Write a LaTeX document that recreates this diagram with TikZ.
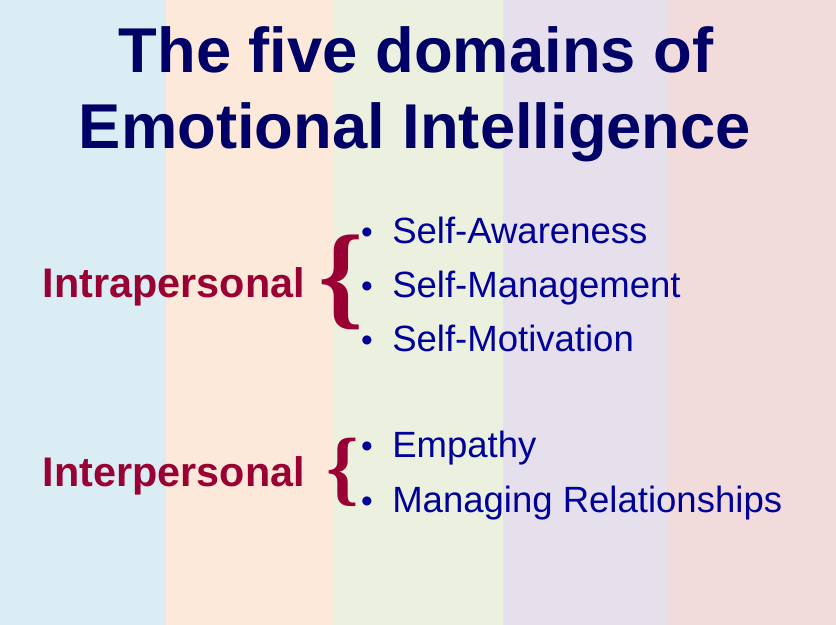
\documentclass[tikz,border=0pt]{standalone}
\usepackage{fontspec}
\setmainfont{Liberation Sans}
\newfontfamily\braceserif{Liberation Serif}
\usetikzlibrary{positioning}
\definecolor{stripe-blue}{RGB}{219,237,244}
\definecolor{stripe-peach}{RGB}{253,233,217}
\definecolor{stripe-green}{RGB}{235,241,222}
\definecolor{stripe-violet}{RGB}{229,224,236}
\definecolor{stripe-pink}{RGB}{242,220,219}
\definecolor{title-navy}{RGB}{0,0,102}
\definecolor{item-navy}{RGB}{0,0,153}
\definecolor{group-red}{RGB}{153,0,51}
\tikzset{
  group/.style={anchor=base east, text=group-red, font=\fontsize{31}{36}\selectfont\bfseries, inner sep=0pt},
  item/.style={anchor=base west, text=item-navy, font=\fontsize{27.4}{32}\selectfont, inner sep=0pt},
  bullet/.style={anchor=base, text=item-navy, font=\fontsize{25}{30}\selectfont, inner sep=0pt},
}
\begin{document}
\begin{tikzpicture}[x=0.75pt,y=-0.75pt]
\useasboundingbox (0,0) rectangle (836,625);
\fill[stripe-blue] (0,0) rectangle (166,625);
\fill[stripe-peach] (166,0) rectangle (334,625);
\fill[stripe-green] (334,0) rectangle (503,625);
\fill[stripe-violet] (503,0) rectangle (667,625);
\fill[stripe-pink] (667,0) rectangle (836,625);
% title
\node[anchor=base, text=title-navy, font=\fontsize{47.5}{50}\selectfont\bfseries, inner sep=0pt] (title1) at (416,72) {The five domains of};
\node[anchor=base, text=title-navy, font=\fontsize{47.5}{50}\selectfont\bfseries, inner sep=0pt] (title2) at (415,148) {Emotional Intelligence};
% groups
\node[group] (intra) at (305,297) {Intrapersonal};
\node[group] (inter) at (305,486) {Interpersonal};
\node[anchor=center, text=group-red, font=\fontsize{86}{86}\selectfont\braceserif\bfseries, inner sep=0pt] (braceA) at (341,282) {\{};
\node[anchor=center, text=group-red, font=\fontsize{62}{62}\selectfont\braceserif\bfseries, inner sep=0pt] (braceB) at (343,472) {\{};
% items
\foreach \y/\txt [count=\i] in {243/Self-Awareness, 297/Self-Management, 351/Self-Motivation, 457/Empathy, 512/Managing Relationships}{
  \node[bullet] (dot\i) at (367,\y) {\textbullet};
  \node[item] (item\i) at (392,\y) {\txt};
}
\end{tikzpicture}
\end{document}
